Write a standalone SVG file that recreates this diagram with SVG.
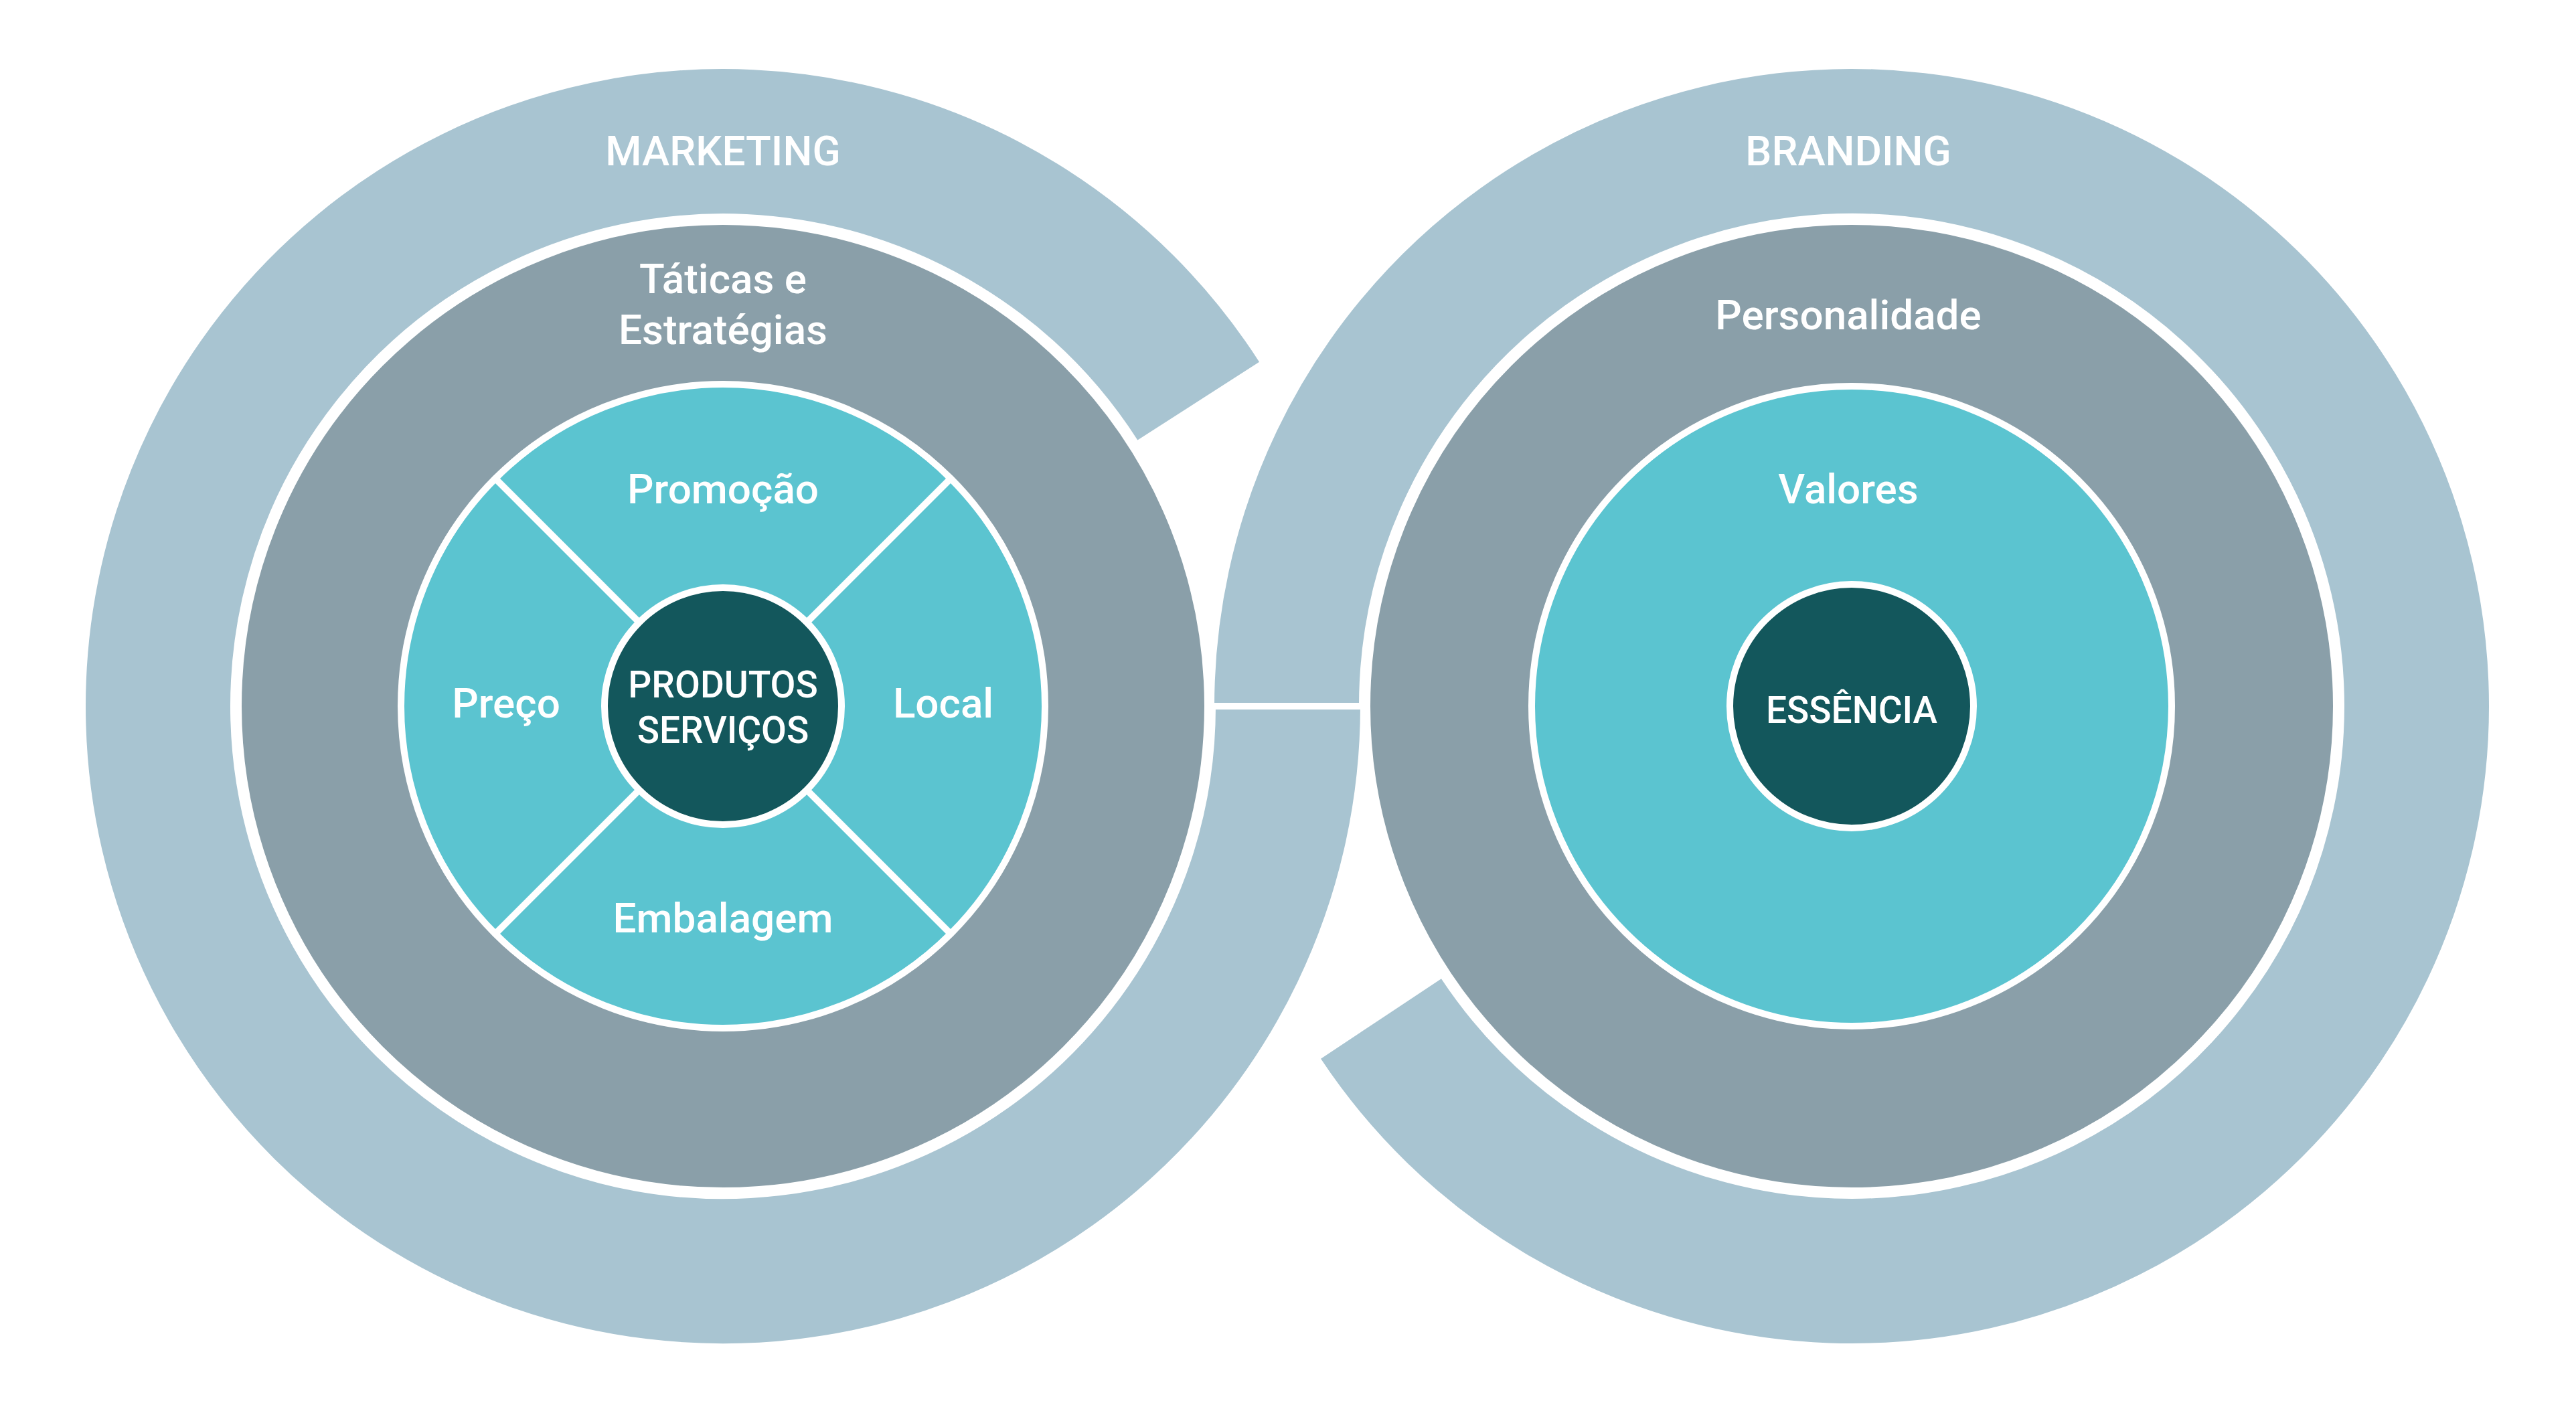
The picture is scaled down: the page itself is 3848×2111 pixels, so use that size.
<svg xmlns="http://www.w3.org/2000/svg" width="3848" height="2111" viewBox="0 0 3848 2111">
<style>
.ring{fill:none;stroke:#a8c4d1;stroke-width:216;stroke-linecap:butt}
.gray{fill:#8a9fa9;stroke:#fff;stroke-width:14}
.teal{fill:#5bc4d0;stroke:#fff;stroke-width:10}
.dark{fill:#13575c;stroke:#fff;stroke-width:10}
.sep{stroke:#fff;stroke-width:10}
text{font-family:Roboto,"Liberation Sans",sans-serif;font-weight:500;fill:#fff;text-anchor:middle}
.t{font-size:62px}
.s{font-size:55px}
</style>
<rect width="3848" height="2111" fill="#fff"/>
<g id="connectors">
<path class="ring" d="M1924 1055 A844 844 0 1 1 1790.2 599.1"/>
<path class="ring" d="M1922 1055 A844 844 0 1 1 2063 1522"/>
<line class="sep" x1="1812" y1="1055" x2="2034" y2="1055"/>
</g>
<g id="marketing">
<circle class="gray" cx="1080" cy="1055" r="726"/>
<circle class="teal" cx="1080" cy="1055" r="481"/>
<line class="sep" x1="740" y1="715" x2="1420" y2="1395"/>
<line class="sep" x1="1420" y1="715" x2="740" y2="1395"/>
<circle class="dark" cx="1080" cy="1055" r="177"/>
<text class="t" x="1080" y="247">MARKETING</text>
<text class="t" x="1080" y="438">Táticas e</text>
<text class="t" x="1080" y="514">Estratégias</text>
<text class="t" x="1080" y="752">Promoção</text>
<text class="t" x="756" y="1072">Preço</text>
<text class="t" x="1409" y="1072">Local</text>
<text class="t" x="1080" y="1393">Embalagem</text>
<text class="s" x="1080" y="1042">PRODUTOS</text>
<text class="s" x="1080" y="1110">SERVIÇOS</text>
</g>
<g id="branding">
<circle class="gray" cx="2766" cy="1055" r="726"/>
<circle class="teal" cx="2766" cy="1055" r="478"/>
<circle class="dark" cx="2766" cy="1055" r="182"/>
<text class="t" x="2761" y="247">BRANDING</text>
<text class="t" x="2761" y="492">Personalidade</text>
<text class="t" x="2761" y="752">Valores</text>
<text class="s" x="2766" y="1080">ESSÊNCIA</text>
</g>
</svg>
